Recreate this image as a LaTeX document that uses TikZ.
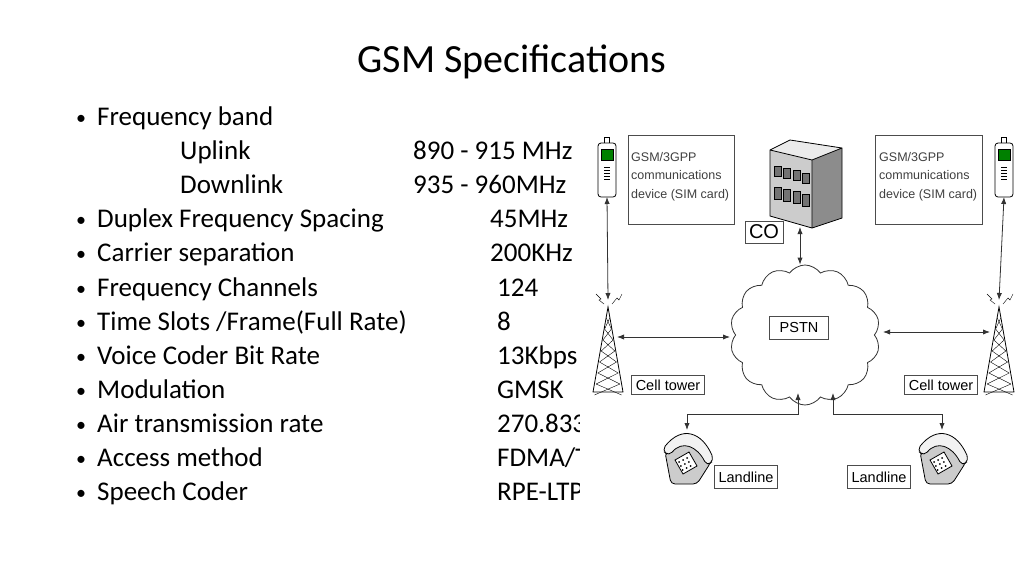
\documentclass[tikz,border=0pt]{standalone}
\usepackage{fontspec}
\setmainfont{Carlito}
\newfontfamily\diagfont{Liberation Sans}
\usetikzlibrary{shapes.symbols, arrows.meta}
\tikzset{
    spec/.style={anchor=base west, inner sep=0pt, font=\fontsize{27}{30}\selectfont},
    tag/.style={draw=black!70, thick, inner sep=4pt, font=\diagfont\fontsize{14.5}{16}\selectfont},
    link/.style={thick, black!80, {Latex[length=7pt]}-{Latex[length=7pt]}},
    devtext/.style={anchor=north west, align=left, font=\diagfont\fontsize{12.5}{18.5}\selectfont,
        text=black!75, inner xsep=3pt, inner ysep=0pt},
}
\begin{document}
\begin{tikzpicture}[x=1pt, y=-1pt]
    \useasboundingbox[fill=white] (0,0) rectangle (1024,576);
    % title
    \node (title) at (512,62) {\fontsize{40}{44}\selectfont GSM Specifications};
    % specification list
    \foreach \yy/\txt in {125/{Frequency band}, 227/{Duplex Frequency Spacing},
        261/{Carrier separation}, 296/{Frequency Channels},
        330/{Time Slots /Frame(Full Rate)}, 364/{Voice Coder Bit Rate},
        398/{Modulation}, 432/{Air transmission rate}, 466/{Access method},
        500/{Speech Coder}}
        {\node[spec, font=\fontsize{20}{22}\selectfont] at (76,\yy-1) {\textbullet};
         \node[spec] at (97,\yy) {\txt};}
    \node[spec] (up) at (180,159) {Uplink};
    \node[spec] (down) at (180,193) {Downlink};
    \node[spec] at (413,159) {890 - 915 MHz};
    \node[spec] at (413,193) {935 - 960MHz};
    \begin{scope}
        \clip (400,200) rectangle (579,520);
        \foreach \yy/\xx/\txt in {227/490/45MHz, 261/490/200KHz, 296/497/124,
            330/497/8, 364/497/13Kbps, 398/497/GMSK, 432/497/{270.833 kbps},
            466/497/{FDMA/TDMA}, 500/497/{RPE-LTP}}
            {\node[spec] at (\xx,\yy) {\txt};}
    \end{scope}
    % network diagram
    \node (pstnc) [cloud, cloud puffs=14, cloud puff arc=110, aspect=1.1,
        draw=black!80, thick, minimum width=150pt, minimum height=140pt]
        at (805,335) {};
    \node (pstn) [tag, inner xsep=10pt, inner ysep=6pt] at (799,328) {PSTN};
    \node (lbox) [draw=black!70, thick, minimum width=106pt, minimum height=89pt]
        at (681,180) {};
    \node [devtext] at (628,152) {GSM/3GPP\\communications\\device (SIM card)};
    \node (rbox) [draw=black!70, thick, minimum width=107pt, minimum height=89pt]
        at (929,180) {};
    \node [devtext] at (876,152) {GSM/3GPP\\communications\\device (SIM card)};
    \node (co) [tag, font=\diagfont\fontsize{20}{22}\selectfont] at (764,232) {CO};
    \node (ltag) [tag] at (668,385) {Cell tower};
    \node (rtag) [tag] at (941,385) {Cell tower};
    \node (lland) [tag, inner ysep=6pt] at (746,477) {Landline};
    \node (rland) [tag, inner ysep=6pt] at (879,477) {Landline};
    % building
    \fill[black!45] (770,150) -- (790,140) -- (842,148) -- (842,218) -- (812,228) -- (770,216) -- cycle;
    \fill[black!20] (770,150) -- (812,160) -- (812,228) -- (770,216) -- cycle;
    \fill[black!8] (770,150) -- (790,140) -- (842,148) -- (812,160) -- cycle;
    \draw[thick] (770,150) -- (790,140) -- (842,148) -- (842,218) -- (812,228)
        -- (770,216) -- cycle (770,150) -- (812,160) -- (842,148) (812,160) -- (812,228);
    \foreach \i in {0,1,2,3}{
        \draw[thick, fill=black!55] (774+9.5*\i,166+2.4*\i) rectangle ++(7,10);
        \draw[thick, fill=black!55] (774+9.5*\i,187+2.4*\i) rectangle ++(7,12);}
    \coordinate (bld) at (800,227);
    % mobile phones
    \foreach \nm/\xx in {lph/607, rph/1004}{
        \draw[thick, fill=white, rounded corners=3pt] (\xx-9,143) rectangle (\xx+9,197);
        \draw[thick] (\xx-3,143) -- (\xx-3,137) -- (\xx+2,137) -- (\xx+2,143);
        \draw[fill=green!50!black] (\xx-6,149) rectangle (\xx+6,160);
        \foreach \k in {0,...,4}{\draw (\xx-3,167+3*\k) -- (\xx+3,167+3*\k);}
        \coordinate (\nm) at (\xx,197);}
    % cell towers
    \foreach \nm/\xx in {ltw/608, rtw/999}{
        \draw[thick] (\xx,307) -- (\xx-15,392) -- (\xx+15,392) -- cycle;
        \foreach \k in {1,...,7}{
            \draw (\xx-1.7*\k,307+11*\k) -- (\xx+1.7*\k+1.7,318+11*\k);
            \draw (\xx+1.7*\k,307+11*\k) -- (\xx-1.7*\k-1.7,318+11*\k);}
        \draw (\xx-12,294) -- (\xx-7,299) -- (\xx-9,300) -- (\xx-4,304);
        \draw (\xx+4,304) -- (\xx+9,298) -- (\xx+11,300) -- (\xx+14,294);
        \coordinate (\nm) at (\xx,300);}
    \coordinate (rtwe) at (990,332);
    \coordinate (ltwe) at (617,337);
    % telephones
    \foreach \nm/\xx in {lphn/687, rphn/942}{
        \draw[thick, fill=black!20, rounded corners=4pt] (\xx-22,452) -- (\xx+4,436)
            -- (\xx+24,462) -- (\xx+10,484) -- (\xx-16,484) -- cycle;
        \draw[thick, fill=black!5, rounded corners=5pt] (\xx-25,450) .. controls (\xx-5,425) and (\xx+15,432) .. (\xx+27,460)
            -- (\xx+20,466) .. controls (\xx+10,446) and (\xx-5,440) .. (\xx-18,456) -- cycle;
        \draw[thick, fill=white] (\xx-12,460) -- (\xx+2,452) -- (\xx+10,466) -- (\xx-4,474) -- cycle;
        \foreach \a in {0,1,2}{\foreach \b in {0,1,2}{
            \fill (\xx-8+4*\a+1.8*\b,462+4*\b-2*\a) circle (1pt);}}
        \coordinate (\nm) at (\xx,430);}
    % connectors
    \draw[link] (lph) -- (ltw);
    \draw[link] (rph) -- (rtw);
    \draw[link] (bld) -- (pstnc.north -| bld);
    \draw[link] (ltwe) -- (730,337);
    \draw[link] (883,332) -- (rtwe);
    \draw[link] (798,393) -- (798,414) -- (687,414) -- (lphn);
    \draw[link] (833,393) -- (833,414) -- (942,414) -- (rphn);
\end{tikzpicture}
\end{document}
